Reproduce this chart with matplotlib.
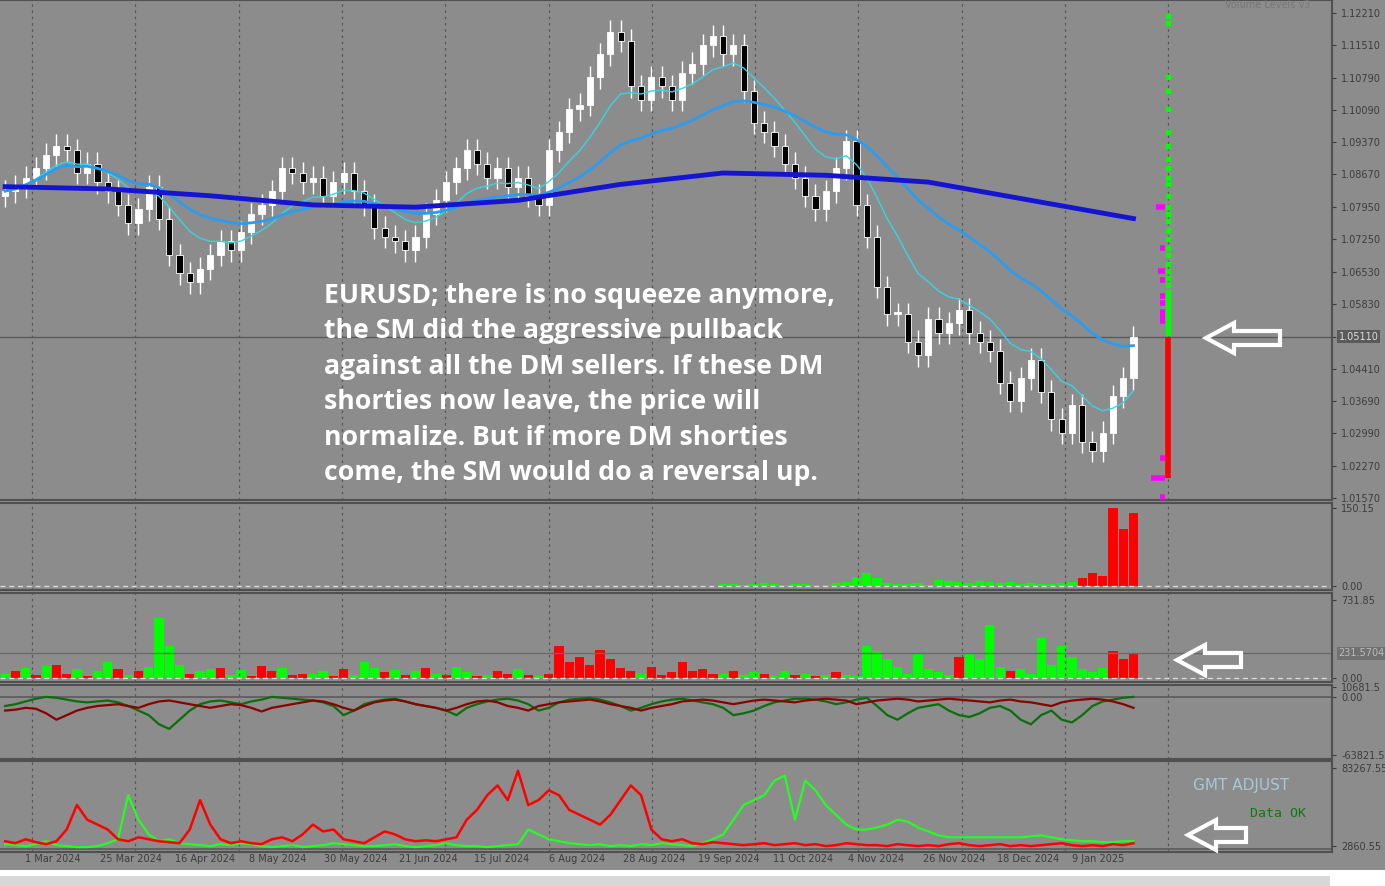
import matplotlib
matplotlib.use("Agg")
import matplotlib.pyplot as plt
import numpy as np
import pandas as pd
from matplotlib.patches import FancyArrow, Rectangle

closes = [1.0830,1.0840,1.0860,1.0880,1.0910,1.0930,
 1.0920,1.0870,1.0890,1.0850,1.0830,
 1.0800,1.0760,1.0790,1.0840,1.0770,
 1.0690,1.0650,1.0630,1.0660,1.0690,
 1.0720,1.0700,1.0740,1.0780,
 1.0800,1.0830,1.0880,1.0870,1.0850,
 1.0860,1.0820,1.0850,1.0870,1.0830,
 1.0800,1.0750,1.0730,1.0720,1.0700,
 1.0730,1.0780,1.0810,1.0850,
 1.0880,1.0920,1.0890,1.0860,1.0880,
 1.0840,1.0860,1.0820,1.0800,1.0920,
 1.0960,1.1010,1.1020,1.1080,1.1130,
 1.1180,1.1160,1.1060,1.1030,
 1.1080,1.1060,1.1030,1.1090,1.1110,
 1.1150,1.1170,1.1130,1.1150,1.1050,
 1.0980,1.0960,1.0930,1.0890,1.0860,
 1.0820,1.0790,1.0830,1.0880,
 1.0940,1.0800,1.0730,1.0620,1.0560,
 1.0560,1.0500,1.0470,1.0550,1.0520,
 1.0540,1.0570,1.0520,1.0500,1.0480,
 1.0410,1.0370,1.0420,1.0460,1.0390,
 1.0330,1.0300,1.0360,1.0280,1.0260,
 1.0300,1.0380,1.0420,1.0510]
first_open = 1.0820
ma_slow_x = [0, 10, 20, 30, 40, 50, 60, 70, 80, 90, 100, 110]
ma_slow_y = [1.0840, 1.0835, 1.0820, 1.0800, 1.0795, 1.0810, 1.0845, 1.0870, 1.0865, 1.0850, 1.0810, 1.0770]

vol1 = [0]*70 + [3,4,2,3,5,3,2,4,3,2,1, 5,8,18,25,15, 5,3,4,6,2,12,10,
        8,6,10,8,5,7,4,6,3,4,5,8, -15,-25,-20,-150,-110,-140]
vol2 = [40,-60,90,-30,110,-120,-40,80,-20,60,
 150,-80,30,-60,100,560,300,120,-40,60,
 80,-90,30,70,-20,-110,-60,90,-30,-40,
 40,60,-20,-80,30,150,90,-50,70,-30,
 60,-90,40,-30,100,50,-20,30,-60,-40,
 80,-30,20,-40,-300,-150,-200,-120,-260,-180,
 -90,-60,40,-100,-30,-50,-150,-60,-80,-40,
 40,-60,30,50,-40,20,60,-30,40,-20,
 30,-50,30,20,300,250,180,100,40,220,
 80,50,30,-200,220,180,500,100,-60,80,
 40,380,120,300,200,80,50,90,-250,-180,-220]
flow_green = [-10,-8,-5,-2,0,-1,-3,-5,-6,-5, -4,-6,-10,-15,-20,-30,-35,-25,-15,-8, -5,-4,-6,-8,-5,-3,0,-1,-2,-3,
 -4,-6,-10,-20,-15,-8,-5,-3,-2,-5, -8,-10,-12,-15,-20,-12,-8,-5,-3,-2, -4,-8,-15,-12,-6,-3,-2,-1,-3,-6,
 -10,-15,-12,-8,-5,-3,-2,-4,-6,-8, -12,-20,-18,-15,-10,-6,-4,-2,-2,-3, -5,-8,-6,-3,-1,-10,-20,-25,-18,-12,
 -10,-8,-15,-20,-22,-18,-12,-10,-15,-25, -30,-20,-15,-25,-28,-20,-10,-5,-3,-1, 0]
flow_red = [-15,-14,-12,-13,-18,-25,-20,-15,-12,-10, -9,-8,-10,-12,-8,-5,-4,-6,-8,-10, -12,-10,-8,-9,-12,-16,-12,-10,-8,-6,
 -4,-5,-8,-12,-15,-10,-6,-4,-3,-5, -8,-10,-12,-15,-12,-8,-5,-4,-6,-10, -12,-15,-10,-8,-6,-5,-4,-3,-5,-8,
 -10,-12,-15,-12,-10,-8,-5,-4,-3,-4, -6,-8,-6,-4,-3,-4,-5,-6,-4,-3, -2,-3,-4,-8,-6,-4,-3,-2,-3,-5,
 -4,-3,-2,-3,-4,-5,-6,-4,-3,-5, -6,-8,-10,-6,-4,-3,-2,-3,-5,-8, -12]
pos_red = [8,6,10,7,5,8,20,45,30,25, 20,10,8,12,10,8,7,6,20,50, 25,10,6,8,6,5,10,12,8,15,
 25,18,20,10,8,6,12,18,15,10, 8,9,8,10,12,30,40,55,65,50, 80,45,50,60,55,40,35,30,25,35,
 50,65,55,20,10,8,10,6,5,7, 6,5,4,5,6,4,5,6,4,5, 3,4,6,5,4,4,3,5,4,3,
 4,3,5,6,4,3,4,5,3,4, 3,4,5,6,4,3,4,3,5,4, 6]
pos_green = [5,4,3,5,8,4,3,2,2,3, 6,10,55,30,15,8,10,6,5,4, 3,5,4,6,5,3,2,3,4,2,
 3,4,6,5,4,3,3,4,5,3, 2,3,4,6,4,3,3,2,3,4, 5,20,15,10,8,6,5,4,5,3,
 4,3,5,4,6,5,4,3,6,10, 15,30,45,50,55,70,75,30,70,60, 45,35,25,20,20,22,25,30,28,22,
 18,14,12,12,12,12,12,12,12,12, 13,14,12,10,9,8,8,7,7,8, 8]
date_labels = ["1 Mar 2024","25 Mar 2024","16 Apr 2024","8 May 2024","30 May 2024","21 Jun 2024",
               "15 Jul 2024","6 Aug 2024","28 Aug 2024","19 Sep 2024","11 Oct 2024","4 Nov 2024",
               "26 Nov 2024","18 Dec 2024","9 Jan 2025"]
price_ticks = [1.12210,1.11510,1.10790,1.10090,1.09370,1.08670,1.07950,1.07250,1.06530,1.05830,1.05110,1.04410,1.03690,1.02990,1.02270,1.01570]
prof_green = [1.1215,1.1200,1.1080,1.1050,1.1010,1.0960,1.0930,1.0900,1.0880,1.0860,1.0845,1.0820,1.0795,1.0780,1.0765,1.0745,1.0725,1.0705,
              1.0690,1.0670,1.0655,1.0640,1.0625,1.0610,1.0600,1.0590,1.0580,1.0570,1.0560,1.0550,1.0540,1.0530,1.0520]
prof_mag = [(1.0795,12),(1.0705,8),(1.0655,10),(1.0635,8),(1.0600,8),(1.0585,8),(1.0565,8),(1.0555,8),(1.0545,8),(1.0245,8),(1.0200,17),(1.0160,8)]

BG = "#8c8c8c"
TXT = "#3c3c3c"
W, H = 1385, 886
fig = plt.figure(figsize=(W/100, H/100), dpi=100, facecolor=BG)

n = len(closes)
step = 1143 / n
X_RIGHT = 1332
xmax = X_RIGHT / step

def ax_px(top, bottom):
    a = fig.add_axes([0, 1-bottom/H, X_RIGHT/W, (bottom-top)/H])
    a.set_facecolor(BG)
    a.set_xlim(-0.5, xmax)
    for s in a.spines.values():
        s.set_color("#505050"); s.set_linewidth(1.5)
    a.spines['left'].set_visible(False)
    a.tick_params(left=False, labelleft=False, bottom=False, labelbottom=False,
                  right=True, labelright=True, labelsize=7, colors=TXT, length=3, direction='out')
    a.yaxis.tick_right()
    return a

label_pos = [(25 + 74.8*k)/step for k in range(len(date_labels))]
grid_pos = [(27 + 103.7*k)/step for k in range(11)]
profile_x = 1167/step

def vgrid(a):
    for t in grid_pos:
        a.axvline(t, color="#555555", ls=(0,(2,3)), lw=0.9)
    a.axvline(profile_x, color="#555555", ls=(0,(2,3)), lw=0.9)

# Price panel
ax = ax_px(0, 500)
ymax = 1.12210 + 13*0.0002194
ymin = 1.01570 - 2*0.0002194
ax.set_ylim(ymin, ymax)
vgrid(ax)
ax.set_yticks(price_ticks)
ax.set_yticklabels([f"{p:.5f}" for p in price_ticks])
ax.axhline(1.05110, color="#5a5a5a", lw=1)
ax.text(1.005, 1.05110, "1.05110", transform=ax.get_yaxis_transform(), fontsize=7, color="#dddddd",
        va='center', ha='left', bbox=dict(boxstyle='square,pad=0.15', fc="#5a5a5a", ec='none'), zorder=10)
opens = [first_open] + closes[:-1]
for i, (o, c) in enumerate(zip(opens, closes)):
    hi = max(o, c) + 0.0025; lo = min(o, c) - 0.0025
    ax.vlines(i, lo, hi, color="white", lw=1, zorder=3)
    col = "white" if c >= o else "black"
    ax.add_patch(Rectangle((i-0.3, min(o, c)), 0.6, max(abs(c-o), 0.0004), fc=col, ec="white", lw=0.6, zorder=4))
s = pd.Series(closes)
ax.plot(range(n), s.ewm(span=10).mean(), color="#33d6e6", lw=1, zorder=5)
ax.plot(range(n), s.ewm(span=28).mean(), color="#2a9cf2", lw=2, zorder=5)
ax.plot(ma_slow_x, ma_slow_y, color="#1414d2", lw=3.5, zorder=5)
ax.scatter([profile_x]*len(prof_green), prof_green, color="#00ff00", s=6, marker='s', zorder=6)
ax.vlines(profile_x, 1.0200, 1.0510, color="red", lw=4, zorder=6)
for p, w in prof_mag:
    ax.hlines(p, profile_x - w/step, profile_x - 0.3, color="#ff00ff", lw=4, zorder=6)
ax.text(320/step, 1.12210-(283-13)*0.0002194,
        "EURUSD; there is no squeeze anymore,\nthe SM did the aggressive pullback\nagainst all the DM sellers. If these DM\nshorties now leave, the price will\nnormalize. But if more DM shorties\ncome, the SM would do a reversal up.",
        color="white", fontsize=19.2, fontweight='bold', family="Open Sans", va='top', ha='left', linespacing=1.47, zorder=8)
ax.text(1225/step, ymax, "Volume Levels v3", fontsize=7, color="#777777", va='top')

# Vol1
a1 = ax_px(503, 590)
a1.set_ylim(-8, 160)
vgrid(a1)
a1.set_yticks([0, 150.15]); a1.set_yticklabels(["0.00", "150.15"])
a1.axhline(0, color="#dddddd", ls=(0,(4,3)), lw=0.9)
v1 = np.array(vol1[:n])
a1.bar(range(len(v1)), np.abs(v1), width=0.9, color=["#00ff00" if v >= 0 else "red" for v in v1])

# Vol2
a2 = ax_px(593, 682)
a2.set_ylim(-40, 800)
vgrid(a2)
a2.set_yticks([0, 731.85]); a2.set_yticklabels(["0.00", "731.85"])
a2.axhline(0, color="#dddddd", ls=(0,(4,3)), lw=0.9)
a2.axhline(231.57, color="#6a6a6a", lw=1)
a2.text(1.005, 231.57, "231.5704", transform=a2.get_yaxis_transform(), fontsize=7, color="#bbbbbb",
        va='center', ha='left', bbox=dict(boxstyle='square,pad=0.15', fc="#707070", ec='none'))
v2 = np.array(vol2[:n])
a2.bar(range(len(v2)), np.abs(v2), width=0.9, color=["#00ff00" if v >= 0 else "red" for v in v2])

# Flow panel
a3 = ax_px(685, 759)
a3.set_ylim(-68, 13)
vgrid(a3)
a3.set_yticks([10.68, 0, -63.82]); a3.set_yticklabels(["10681.5", "0.00", "-63821.5"])
a3.axhline(0, color="#5a5a5a", lw=1.2)
a3.plot(range(len(flow_green)), flow_green, color="#0b6e0b", lw=1.6)
a3.plot(range(len(flow_red)), flow_red, color="#8b0000", lw=1.6)

# Positions panel
a4 = ax_px(761, 852)
a4.set_ylim(-3, 90)
vgrid(a4)
a4.set_yticks([83.27, 2.86]); a4.set_yticklabels(["83267.55", "2860.55"])
a4.axhline(0, color="#5a5a5a", lw=1.2)
a4.plot(range(len(pos_green)), pos_green, color="#22ff22", lw=1.6)
a4.plot(range(len(pos_red)), pos_red, color="red", lw=1.8)
a4.text(1192/step, 65, "GMT ADJUST", color="#a8c8d8", fontsize=11, va='center')
a4.text(1250/step, 36, "Data OK", color="#0e7a0e", fontsize=9.5, va='center', family="DejaVu Sans Mono")

# date labels
for t, lab in zip(label_pos, date_labels):
    fig.text(t*step/W, 1-859/H, lab, fontsize=7, color=TXT, va='center', ha='left')

# bottom white strip
fig.add_artist(Rectangle((0, 0), 1, 16/H, transform=fig.transFigure, fc="white", ec='none'))
fig.add_artist(Rectangle((0, 0), 1330/W, 10/H, transform=fig.transFigure, fc="#d8d8d8", ec='none'))

# arrows
def arrow(x0, y0, length):
    fig.add_artist(FancyArrow((x0+length)/W, 1-y0/H, -length/W, 0, width=14/H, head_width=30/H,
                              head_length=28/W, length_includes_head=True, transform=fig.transFigure,
                              fc='none', ec='white', lw=3))
arrow(1206, 338, 74)
arrow(1177, 660, 64)
arrow(1188, 835, 58)

fig.savefig("out.png", dpi=100, facecolor=BG)
